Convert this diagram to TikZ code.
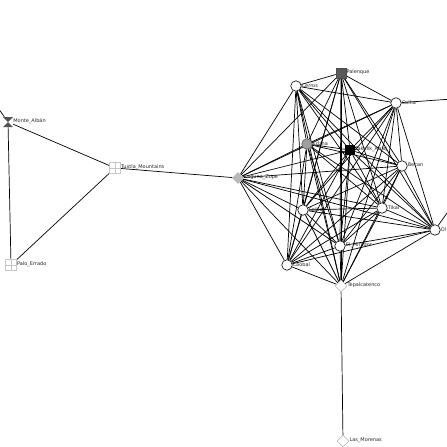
\documentclass[tikz,border=0pt]{standalone}
\usepackage{fontspec}
\setmainfont{DejaVu Sans}
\usetikzlibrary{shapes.geometric,backgrounds}
\begin{document}
\begin{tikzpicture}[x=1pt,y=-1pt,
  lab/.style={font=\fontsize{5}{6}\selectfont, text=black!85, inner sep=0.5pt},
  edge/.style={draw=black, line width=0.7pt},
  circ/.style={circle, draw=black, fill=white, minimum size=10.5pt, inner sep=0pt, line width=0.6pt},
  gcirc/.style={circle, draw=gray!70!black, fill=gray!75, minimum size=10.5pt, inner sep=0pt, line width=0.6pt},
  gsq/.style={rectangle, draw=gray!60!black, fill=gray!70!black, minimum size=10pt, inner sep=0pt, line width=0.6pt},
  bsq/.style={rectangle, fill=black, minimum size=10pt, inner sep=0pt},
  gdiam/.style={diamond, fill=gray!55, minimum size=12pt, inner sep=0pt},
  wdiam/.style={diamond, draw=gray!50, fill=white, minimum size=12pt, inner sep=0pt, line width=0.6pt},
  gridsq/.style={rectangle, draw=gray!45, fill=white, minimum size=11pt, inner sep=0pt, line width=0.7pt,
    path picture={\draw[gray!45, line width=0.7pt] (path picture bounding box.north) -- (path picture bounding box.south)
      (path picture bounding box.west) -- (path picture bounding box.east);}},
  hglass/.style={rectangle, minimum size=10pt, inner sep=0pt,
    path picture={\fill[gray!65!black] (path picture bounding box.north west) -- (path picture bounding box.north east)
      -- (path picture bounding box.south west) -- (path picture bounding box.south east) -- cycle;}},
  lr/.style={label={[lab, anchor=west, xshift=-0.5pt, yshift=0.8pt]east:#1}}
]
\useasboundingbox (0,0) rectangle (447,447);

% cluster nodes
\node[gsq, lr=Palenque] (P) at (341,73) {};
\node[circ, lr=Cerros] (Ce) at (296,86) {};
\node[circ, lr=Colha] (Co) at (396,103) {};
\node[gcirc, lr=Edzna] (Ed) at (307,144) {};
\node[bsq, lr={Takalik\_Ab'aj}] (Ta) at (350,150) {};
\node[circ, lr=Becan] (Be) at (402,166) {};
\node[gdiam, lr=Laguna\_Zope] (LZ) at (238,178) {};
\node[circ, lr=Seibal] (Se) at (303,210) {};
\node[circ, lr=Tikal] (Ti) at (382,208) {};
\node[circ, lr=Ol] (Ol) at (435,230) {};
\node[circ, lr=El\_Mirador] (EM) at (340,246) {};
\node[circ, lr=Caobal] (Cb) at (287,265) {};
\node[wdiam, lr=Tepalcatenco] (Te) at (341,286) {};

% others
\node[wdiam, lr=Las\_Morenas] (LM) at (343,441) {};
\node[gridsq, lr=Tuxtla\_Mountains] (TM) at (115,168) {};
\node[hglass, lr=Monte\_Albán] (MA) at (8,122) {};
\node[gridsq, lr=Palo\_Errado] (PE) at (11,265) {};

\coordinate (offCo) at (452,99);
\coordinate (offOl) at (452,206);
\coordinate (offMA) at (-4,105);

\begin{pgfonlayer}{background}
\foreach \a [count=\i] in {P,Ce,Co,Ed,Ta,Be,LZ,Se,Ti,Ol,EM,Cb,Te}{
  \foreach \b [count=\j] in {P,Ce,Co,Ed,Ta,Be,LZ,Se,Ti,Ol,EM,Cb,Te}{
    \ifnum\j>\i \draw[edge] (\a) -- (\b); \fi
  }
}
\draw[edge] (Co) -- (offCo);
\draw[edge] (Ol) -- (offOl);
\draw[edge] (MA) -- (offMA);
\draw[edge] (MA) -- (TM);
\draw[edge] (MA) -- (PE);
\draw[edge] (PE) -- (TM);
\draw[edge] (TM) -- (LZ);
\draw[edge] (Te) -- (LM);
\end{pgfonlayer}
\end{tikzpicture}
\end{document}
